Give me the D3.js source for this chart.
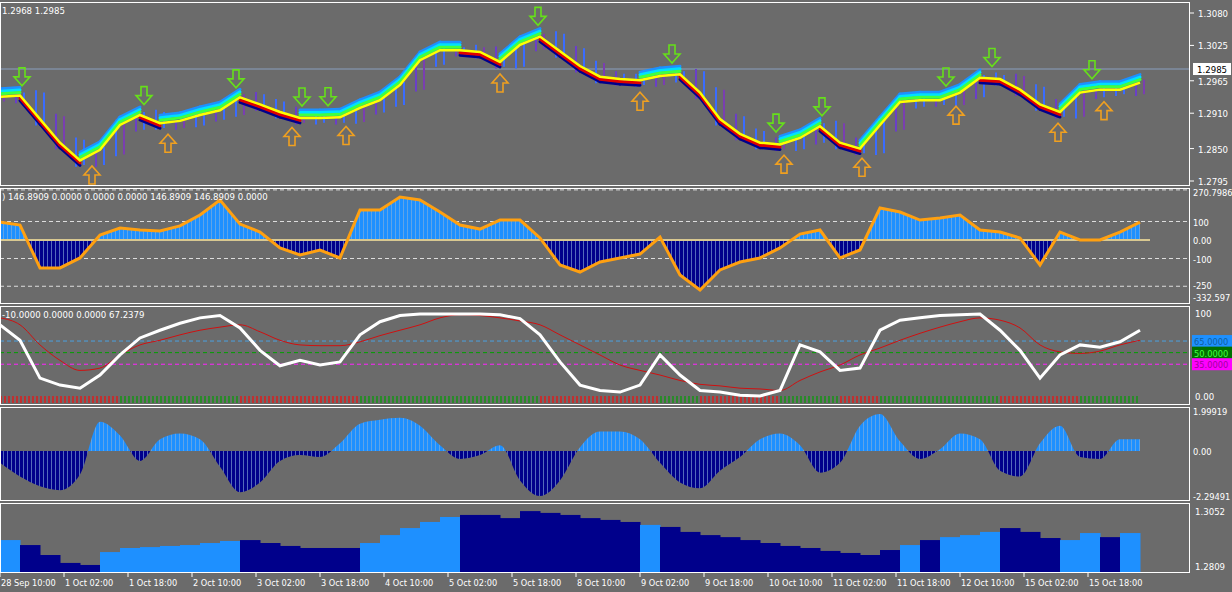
<!DOCTYPE html><html><head><meta charset="utf-8">
<script src="https://cdn.jsdelivr.net/npm/d3@7"></script>
<style>body{margin:0;background:#6b6b6b;}svg{display:block;font-family:"DejaVu Sans",sans-serif;}</style></head><body>
<svg id="c" width="1232" height="592"></svg>
<script>
// ---- data (one value per 20px step) ----
const price=[1.2938,1.2940,1.2900,1.2860,1.2830,1.2848,1.2890,1.2907,1.2893,1.2897,1.2907,1.2915,1.2937,1.2925,1.2912,1.2902,1.2902,1.2903,1.2919,1.2932,1.2958,1.3000,1.3017,1.3017,1.3014,1.2997,1.3026,1.3040,1.3015,1.2990,1.2972,1.2968,1.2966,1.2973,1.2976,1.2945,1.2900,1.2875,1.2860,1.2857,1.2868,1.2888,1.2860,1.2850,1.2890,1.2929,1.2932,1.2932,1.2945,1.2970,1.2968,1.2950,1.2925,1.2912,1.2945,1.2950,1.2950,1.2962];
const cci=[97,81,-151,-151,-97,27,65,54,49,76,135,216,86,43,-43,-81,-54,-97,162,162,232,216,151,81,59,108,108,11,-135,-173,-119,-97,-76,16,-189,-270,-162,-119,-97,-43,32,54,-97,-54,173,151,108,119,135,54,43,11,-135,43,0,0,43,97];
const rsiFast=[86,66,17,8,4,21,47,69,79,88,95,98,82,53,33,40,34,38,73,90,98,100,100,100,100,99,94,73,38,8,1,-1,8,47,21,1,-1,-5,-6,1,60,51,27,30,79,92,95,98,99,100,79,53,17,47,60,57,64,79];
const rsiSlow=[95,86,60,40,27,30,47,60,66,73,79,83,86,77,66,60,59,59,64,72,79,86,95,99,98,95,91,86,73,60,47,34,27,21,14,9,7,4,3,1,14,25,34,47,56,66,75,83,90,95,92,82,60,51,49,52,60,66];
const osc=[-0.6,-1.3,-1.8,-2.0,-1.2,1.5,0.8,-0.5,0.6,0.9,0.6,-0.8,-2.1,-1.6,-0.5,-0.2,-0.3,0.4,1.4,1.6,1.7,1.3,0.3,-0.4,-0.2,0.3,-1.5,-2.3,-1.5,0.2,1.0,1.0,0.6,-0.6,-1.6,-1.9,-1.0,-0.3,0.6,0.9,0.3,-1.1,-0.6,1.3,1.9,0.5,-0.4,0.1,0.9,0.6,-1.0,-1.3,0.4,1.3,-0.3,-0.4,0.6,0.6];
const band=[1.2928,1.2906,1.2862,1.2827,1.2818,1.2875,1.2893,1.2897,1.2902,1.2906,1.2915,1.2924,1.2928,1.2915,1.2902,1.2893,1.2893,1.2893,1.2915,1.2950,1.2981,1.3008,1.3030,1.3039,1.3039,1.3025,1.3056,1.3048,1.3039,1.3025,1.3017,1.3008,1.2995,1.2986,1.2964,1.2950,1.2941,1.2928,1.2915,1.2902,1.2893,1.2880,1.2871,1.2862,1.2884,1.2906,1.2928,1.2941,1.2950,1.2964,1.2981,1.2964,1.2937,1.2928,1.2959,1.2941,1.2959,1.2972];
const bandUp=[1,0,0,0,0,1,1,1,1,1,1,1,0,0,0,0,0,0,1,1,1,1,1,0,0,0,0,0,0,0,0,0,1,0,0,0,0,0,0,0,0,0,0,0,0,1,0,1,1,1,0,0,0,1,1,0,1,1];
const downArrows=[1.1,7.2,11.8,15.1,16.4,26.9,33.6,38.8,41.1,47.3,49.6,54.6];
const upArrows=[4.6,8.4,14.6,17.3,25,32,39.2,43.1,47.8,52.9,55.2];
const dateLabels=["28 Sep 10:00","1 Oct 02:00","1 Oct 18:00","2 Oct 10:00","3 Oct 02:00","3 Oct 18:00","4 Oct 10:00","5 Oct 02:00","5 Oct 18:00","8 Oct 10:00","9 Oct 02:00","9 Oct 18:00","10 Oct 10:00","11 Oct 02:00","11 Oct 18:00","12 Oct 10:00","15 Oct 02:00","15 Oct 18:00"];
const priceTicks=[1.3080,1.3025,1.2965,1.2910,1.2850,1.2795];

const svg=d3.select("#c");
const W=1190;
const FS=8.6;
const x=d3.scaleLinear().domain([0,price.length-1]).range([0,1140]);
const idx=d3.range(price.length);
const txt=(s,xx,yy,t,o={})=>s.append("text").attr("x",xx).attr("y",yy).attr("fill",o.fill||"#fff").attr("font-size",o.fs||FS).attr("text-anchor",o.anchor||"start").text(t);
function frame(y0,y1){svg.append("rect").attr("x",0.5).attr("y",y0+0.5).attr("width",W-1).attr("height",y1-y0-1).attr("fill","none").attr("stroke","#fff");}
const defs=svg.append("defs");
function clip(id,x0,y0,w,h){defs.append("clipPath").attr("id",id).append("rect").attr("x",x0).attr("y",y0).attr("width",w).attr("height",h);}
function stripes(id,col){const p=defs.append("pattern").attr("id",id).attr("width",4).attr("height",10).attr("patternUnits","userSpaceOnUse");
 p.append("rect").attr("width",4).attr("height",10).attr("fill",col);p.append("rect").attr("x",3).attr("width",1).attr("height",10).attr("fill","#8ab0d8").attr("opacity",0.6);}
stripes("sb","#1e90ff");stripes("sn","#00008b");
[["sg","#2a8a2a"],["sr","#c03030"]].forEach(([id,c])=>{const p=defs.append("pattern").attr("id",id).attr("width",4).attr("height",8).attr("patternUnits","userSpaceOnUse");p.append("rect").attr("width",2).attr("height",8).attr("fill",c);});

// ---- panel 1 price ----
const P1=[2,186];frame(P1[0],P1[1]);clip("c1",1,P1[0]+1,W-2,P1[1]-P1[0]-2);
const y1=d3.scaleLinear().domain([1.2795,1.3080]).range([181,13]);
const g1=svg.append("g").attr("clip-path","url(#c1)");
g1.append("line").attr("x1",0).attr("x2",W).attr("y1",y1(1.2985)).attr("y2",y1(1.2985)).attr("stroke","#8aa0c0").attr("stroke-width",1);
idx.forEach(i=>{const a=price[Math.max(0,i-1)],b=price[i];const hi=Math.max(a,b)+0.0009,lo=Math.min(a,b)-0.0011;
 g1.append("line").attr("x1",x(i)-4).attr("x2",x(i)-4).attr("y1",y1(hi)).attr("y2",y1(lo)).attr("stroke",i%2?"#6a3fc8":"#3a6cff").attr("stroke-width",2);
 g1.append("line").attr("x1",x(i)+4).attr("x2",x(i)+4).attr("y1",y1(hi-0.0004)).attr("y2",y1(lo+0.0003)).attr("stroke",i%3?"#3a6cff":"#7a3fb0").attr("stroke-width",2);});
const upCols=[["#1e90ff",-8],["#00e0ff",-5.5],["#40ff40",-3]],dnCols=[["#00008b",5],["#e00000",2.5]];
for(let i=0;i<price.length-1;i++){const up=price[i+1]>=price[i];const cols=up?upCols:dnCols;
 cols.forEach(([c,o])=>g1.append("line").attr("x1",x(i)).attr("x2",x(i+1)).attr("y1",y1(price[i])+o).attr("y2",y1(price[i+1])+o).attr("stroke",c).attr("stroke-width",3).attr("stroke-linecap","round"));}
g1.append("path").datum(idx).attr("d",d3.line().x(i=>x(i)).y(i=>y1(price[i]))).attr("fill","none").attr("stroke","#ffff00").attr("stroke-width",2.5);
const interp=t=>{const i=Math.floor(t),f=t-i;return price[i]*(1-f)+price[Math.min(i+1,price.length-1)]*f;};
downArrows.forEach(t=>{const cx=x(t),cy=y1(interp(t))-21;
 g1.append("path").attr("d",`M${cx-3},${cy-9}h6v9h5l-8,9l-8,-9h5z`).attr("fill","none").attr("stroke","#66e01a").attr("stroke-width",1.6);});
upArrows.forEach(t=>{const cx=x(t),cy=y1(interp(t))+21;
 g1.append("path").attr("d",`M${cx-3},${cy+9}h6v-9h5l-8,-9l-8,9h5z`).attr("fill","none").attr("stroke","#f0a020").attr("stroke-width",1.6);});
txt(svg,2,14,"1.2968 1.2985");
priceTicks.forEach(v=>{svg.append("line").attr("x1",W).attr("x2",W+4).attr("y1",y1(v)).attr("y2",y1(v)).attr("stroke","#fff");txt(svg,1198,y1(v)+4,v.toFixed(4));});
svg.append("rect").attr("x",1193).attr("y",y1(1.2985)-6).attr("width",38).attr("height",12).attr("fill","#fff");
txt(svg,1197,y1(1.2985)+4,"1.2985",{fill:"#000"});

// ---- panel 2 CCI ----
const P2=[188,304];frame(P2[0],P2[1]);clip("c2",1,P2[0]+1,W-2,P2[1]-P2[0]-2);
const y2=d3.scaleLinear().domain([0,100]).range([240,221.5]);
const g2=svg.append("g").attr("clip-path","url(#c2)");
[270.8,100,-100,-250].forEach(v=>g2.append("line").attr("x1",0).attr("x2",W).attr("y1",y2(v)).attr("y2",y2(v)).attr("stroke","#ddd").attr("stroke-dasharray","4,3"));
clip("c2a",0,0,W,y2(0));clip("c2b",0,y2(0),W,400);
const ar2=d3.area().x(i=>x(i)).y0(y2(0)).y1(i=>y2(cci[i]));
g2.append("g").attr("clip-path","url(#c2a)").append("path").datum(idx).attr("d",ar2).attr("fill","url(#sb)");
g2.append("g").attr("clip-path","url(#c2b)").append("path").datum(idx).attr("d",ar2).attr("fill","url(#sn)");
g2.append("line").attr("x1",0).attr("x2",1150).attr("y1",y2(0)).attr("y2",y2(0)).attr("stroke","#d8c890").attr("stroke-width",2);
g2.append("path").datum(idx).attr("d",d3.line().x(i=>x(i)).y(i=>y2(cci[i]))).attr("fill","none").attr("stroke","#ffa010").attr("stroke-width",3);
txt(svg,2,200,") 146.8909 0.0000 0.0000 0.0000 146.8909 146.8909 0.0000");
[[196,"270.7986"],[y2(100)+4,"100"],[y2(0)+4,"0.00"],[y2(-100)+4,"-100"],[y2(-250)+3,"-250"],[301,"-332.597"]].forEach(([yy,t])=>txt(svg,1193,yy,t,{fs:8.3}));

// ---- panel 3 RSI ----
const P3=[306,405];frame(P3[0],P3[1]);clip("c3",1,P3[0]+1,W-2,P3[1]-P3[0]-2);
const y3=d3.scaleLinear().domain([-10,100]).range([399,314]);
const g3=svg.append("g").attr("clip-path","url(#c3)");
[[65,"#4aa0e0"],[50,"#00a000"],[35,"#ff20ff"]].forEach(([v,c])=>g3.append("line").attr("x1",0).attr("x2",W).attr("y1",y3(v)).attr("y2",y3(v)).attr("stroke",c).attr("stroke-dasharray","4,3"));
idx.forEach(i=>{if(i==idx.length-1)return;g3.append("rect").attr("x",x(i)).attr("y",396).attr("width",20).attr("height",7)
 .attr("fill",rsiFast[i]>=rsiSlow[i]?"url(#sg)":"url(#sr)");});
g3.append("path").datum(idx).attr("d",d3.line().curve(d3.curveMonotoneX).x(i=>x(i)).y(i=>y3(rsiSlow[i]))).attr("fill","none").attr("stroke","#d01010").attr("stroke-width",1);
g3.append("path").datum(idx).attr("d",d3.line().x(i=>x(i)).y(i=>y3(rsiFast[i]))).attr("fill","none").attr("stroke","#fff").attr("stroke-width",3);
txt(svg,2,318,"-10.0000 0.0000 0.0000 67.2379");
txt(svg,1195,317,"100");
[[65,"#1e90ff","#1060a0"],[50,"#007000","#40ff40"],[35,"#ff00ff","#a000a0"]].forEach(([v,bg,fg])=>{svg.append("rect").attr("x",1192).attr("y",y3(v)-6).attr("width",40).attr("height",12).attr("fill",bg);txt(svg,1194,y3(v)+4,v.toFixed(4),{fill:fg,fs:8.3});});
txt(svg,1195,400,"0.00");

// ---- panel 4 oscillator ----
const P4=[407,501];frame(P4[0],P4[1]);clip("c4",1,P4[0]+1,W-2,P4[1]-P4[0]-2);
const y4=d3.scaleLinear().domain([-2.29491,1.99919]).range([496,412]);
const g4=svg.append("g").attr("clip-path","url(#c4)");
clip("c4a",0,0,W,y4(0));clip("c4b",0,y4(0),W,600);
const ar4=d3.area().curve(d3.curveMonotoneX).x(i=>x(i)).y0(y4(0)).y1(i=>y4(osc[i]));
g4.append("g").attr("clip-path","url(#c4a)").append("path").datum(idx).attr("d",ar4).attr("fill","url(#sb)");
g4.append("g").attr("clip-path","url(#c4b)").append("path").datum(idx).attr("d",ar4).attr("fill","url(#sn)");
[[y4(1.99919)+3,"1.99919"],[y4(0)+4,"0.00"],[y4(-2.29491)+4,"-2.29491"]].forEach(([yy,t])=>txt(svg,1193,yy,t,{fs:8.3}));

// ---- panel 5 band ----
const P5=[503,573];frame(P5[0],P5[1]);clip("c5",1,P5[0]+1,W-2,P5[1]-P5[0]-2);
const y5=d3.scaleLinear().domain([1.2809,1.3052]).range([567,512]);
const g5=svg.append("g").attr("clip-path","url(#c5)");
idx.forEach(i=>{if(i==idx.length-1)return;g5.append("rect").attr("x",x(i)).attr("y",y5(band[i])).attr("width",20.5).attr("height",P5[1]-y5(band[i]))
 .attr("fill",bandUp[i]?"#1e90ff":"#00008b");});
txt(svg,1195,515,"1.3052");txt(svg,1195,570,"1.2809");

// ---- time axis ----
dateLabels.forEach((t,i)=>{const xx=i*64;svg.append("line").attr("x1",xx).attr("x2",xx).attr("y1",573).attr("y2",577).attr("stroke","#fff");txt(svg,xx+1,586,t,{fs:8.2});});
</script></body></html>
